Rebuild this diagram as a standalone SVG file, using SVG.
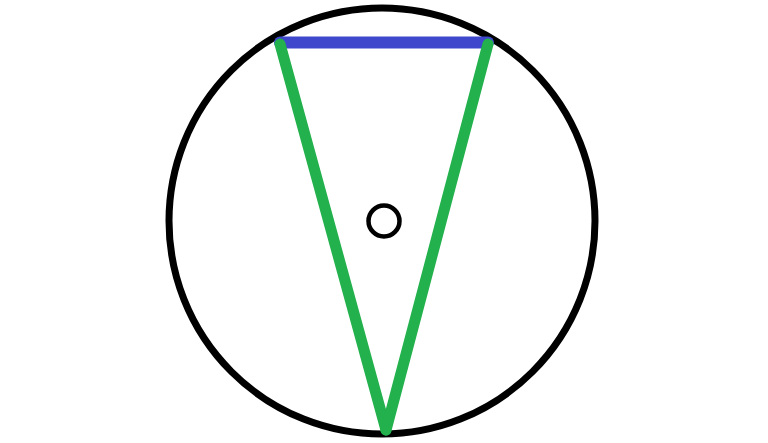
<svg xmlns="http://www.w3.org/2000/svg" width="768" height="443" viewBox="0 0 768 443">
<style>
.ring{fill:none;stroke:#000;stroke-width:7}
.chord{stroke:#3f48cc;stroke-width:12;stroke-linecap:round}
.side{stroke:#22b14c;stroke-width:11;stroke-linecap:round}
</style>
<rect width="768" height="443" fill="#fff"/>
<g id="outer-circle"><circle class="ring" cx="382" cy="221" r="213"/></g>
<g id="center"><circle cx="384" cy="221" r="15.5" fill="none" stroke="#000" stroke-width="4.5"/></g>
<g id="connectors">
<line class="chord" x1="280" y1="42.5" x2="488" y2="42.5"/>
<line class="side" x1="280" y1="44" x2="386" y2="430"/>
<line class="side" x1="488" y1="44" x2="386" y2="430"/>
</g>
</svg>
